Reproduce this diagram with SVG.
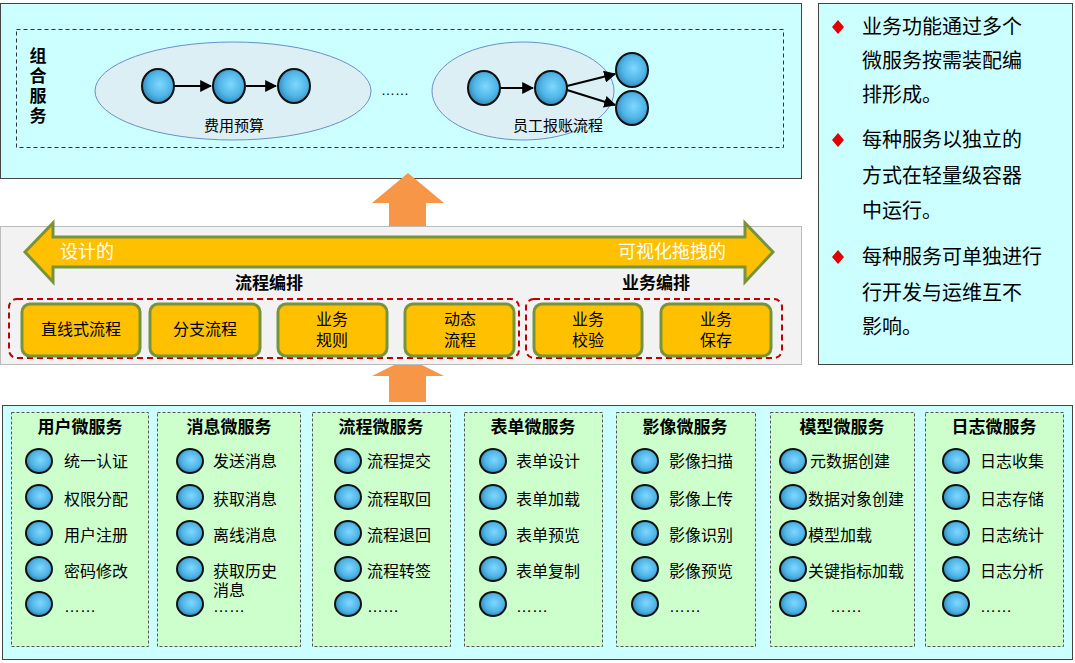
<svg xmlns="http://www.w3.org/2000/svg" width="1075" height="663" viewBox="0 0 1075 663">
<defs>
<radialGradient id="ball" cx="0.55" cy="0.45" r="0.6"><stop offset="0" stop-color="#7fd8ff"/><stop offset="0.6" stop-color="#4fb4e6"/><stop offset="1" stop-color="#2a7fb0"/></radialGradient>
<marker id="ah" viewBox="0 0 10 10" refX="9" refY="5" markerWidth="6" markerHeight="6" orient="auto"><path d="M0,0L10,5L0,10z" fill="#000"/></marker>
<style>
text{font-family:"Liberation Sans","Noto Sans CJK SC",sans-serif;fill:#000}
.panel{fill:#ccffff;stroke:#444;stroke-width:1}
.b{fill:url(#ball);stroke:#111;stroke-width:2}
.col{fill:#ccffcc;stroke:#555;stroke-width:1;stroke-dasharray:3,2}
.ttl{font-size:17px;font-weight:bold;text-anchor:middle}
.it{font-size:16px}
.yb{fill:#ffc000;stroke:#77933c;stroke-width:3}
.yt{font-size:16px;text-anchor:middle}
.rg{fill:none;stroke:#c00000;stroke-width:2;stroke-dasharray:6,4}
.org{fill:#f79646}
.rt{font-size:20px}
.dm{fill:#e00000}
</style>
</defs>
<g id="top">
<rect class="panel" x="0.5" y="3.5" width="801" height="175"/>
<rect x="16.5" y="29.5" width="767" height="118" fill="none" stroke="#333" stroke-dasharray="4,3"/>
<text x="38" y="62" font-size="17" font-weight="bold" text-anchor="middle">组</text>
<text x="38" y="82" font-size="17" font-weight="bold" text-anchor="middle">合</text>
<text x="38" y="102" font-size="17" font-weight="bold" text-anchor="middle">服</text>
<text x="38" y="122" font-size="17" font-weight="bold" text-anchor="middle">务</text>
<ellipse cx="233" cy="91" rx="138" ry="49" fill="#dceff5" stroke="#6a8fc8"/>
<ellipse cx="523" cy="91" rx="91" ry="49" fill="#dceff5" stroke="#6a8fc8"/>
<text x="395" y="95" font-size="14" text-anchor="middle">……</text>
<text x="234" y="131" font-size="15" text-anchor="middle">费用预算</text>
<text x="558" y="131" font-size="15" text-anchor="middle">员工报账流程</text>
</g>
<g id="connectors" stroke="#000" stroke-width="2" fill="none">
<line x1="174" y1="86" x2="211" y2="86" marker-end="url(#ah)"/>
<line x1="246" y1="86" x2="276" y2="86" marker-end="url(#ah)"/>
<line x1="501" y1="88" x2="533" y2="88" marker-end="url(#ah)"/>
<line x1="567" y1="86" x2="615" y2="74" marker-end="url(#ah)"/>
<line x1="567" y1="90" x2="615" y2="105" marker-end="url(#ah)"/>
</g>
<g id="flow-nodes">
<ellipse class="b" cx="158" cy="86" rx="16" ry="17"/>
<ellipse class="b" cx="229" cy="86" rx="16" ry="17"/>
<ellipse class="b" cx="294" cy="86" rx="16" ry="17"/>
<ellipse class="b" cx="484" cy="88" rx="16" ry="17"/>
<ellipse class="b" cx="551" cy="88" rx="16" ry="17"/>
<ellipse class="b" cx="632" cy="70" rx="16" ry="17"/>
<ellipse class="b" cx="632" cy="108" rx="16" ry="17"/>
</g>
<g id="arrows-up">
<path class="org" d="M408,173L444,203L426,203L426,226L389,226L389,203L372,203Z"/>
<path class="org" d="M408,358L444,376L426,376L426,402L389,402L389,376L372,376Z"/>
</g>
<g id="middle">
<rect x="0.5" y="226.5" width="801" height="138" fill="#f2f2f2" stroke="#bbb"/>
<path d="M25,252L53,223L53,237L745,237L745,223L773,252L745,282L745,267L53,267L53,282Z" fill="#ffc000" stroke="#77933c" stroke-width="3"/>
<text x="60" y="258" font-size="18" fill="#fff" style="fill:#fff">设计的</text>
<text x="726" y="258" font-size="18" text-anchor="end" style="fill:#fff">可视化拖拽的</text>
<text x="269" y="289" font-size="17" font-weight="bold" text-anchor="middle">流程编排</text>
<text x="656" y="289" font-size="17" font-weight="bold" text-anchor="middle">业务编排</text>
<rect class="rg" x="9" y="299" width="510" height="59" rx="8"/>
<rect class="rg" x="526" y="299" width="256" height="59" rx="8"/>
<g id="b1"><rect class="yb" x="22" y="304" width="118" height="52" rx="8"/><text class="yt" x="81" y="335">直线式流程</text></g>
<g id="b2"><rect class="yb" x="150" y="304" width="110" height="52" rx="8"/><text class="yt" x="205" y="335">分支流程</text></g>
<g id="b3"><rect class="yb" x="278" y="304" width="109" height="52" rx="8"/><text class="yt" x="332" y="325">业务</text><text class="yt" x="332" y="346">规则</text></g>
<g id="b4"><rect class="yb" x="405" y="304" width="109" height="52" rx="8"/><text class="yt" x="460" y="325">动态</text><text class="yt" x="460" y="346">流程</text></g>
<g id="b5"><rect class="yb" x="534" y="304" width="108" height="52" rx="8"/><text class="yt" x="588" y="325">业务</text><text class="yt" x="588" y="346">校验</text></g>
<g id="b6"><rect class="yb" x="661" y="304" width="110" height="52" rx="8"/><text class="yt" x="716" y="325">业务</text><text class="yt" x="716" y="346">保存</text></g>
</g>
<g id="right">
<rect class="panel" x="818.5" y="3.5" width="254" height="361"/>
<path class="dm" d="M838,20l6,7l-6,7l-6,-7z"/>
<path class="dm" d="M838,133l6,7l-6,7l-6,-7z"/>
<path class="dm" d="M838,250l6,7l-6,7l-6,-7z"/>
<text class="rt" x="862" y="34">业务功能通过多个</text>
<text class="rt" x="862" y="68">微服务按需装配编</text>
<text class="rt" x="862" y="102">排形成。</text>
<text class="rt" x="862" y="147">每种服务以独立的</text>
<text class="rt" x="862" y="183">方式在轻量级容器</text>
<text class="rt" x="862" y="218">中运行。</text>
<text class="rt" x="862" y="264">每种服务可单独进行</text>
<text class="rt" x="862" y="300">行开发与运维互不</text>
<text class="rt" x="862" y="334">影响。</text>
</g>
<g id="bottom">
<rect class="panel" x="2.5" y="405.5" width="1070" height="254"/>
<g id="c1"><rect class="col" x="11.5" y="412.5" width="137" height="234"/><text class="ttl" x="80" y="433">用户微服务</text>
<ellipse class="b" cx="39" cy="461" rx="13" ry="12"/><text class="it" x="64" y="467">统一认证</text>
<ellipse class="b" cx="39" cy="497" rx="13" ry="12"/><text class="it" x="64" y="505">权限分配</text>
<ellipse class="b" cx="39" cy="533" rx="13" ry="12"/><text class="it" x="64" y="541">用户注册</text>
<ellipse class="b" cx="39" cy="569" rx="13" ry="12"/><text class="it" x="64" y="577">密码修改</text>
<ellipse class="b" cx="39" cy="604" rx="13" ry="12"/><text class="it" x="64" y="612">……</text></g>
<g id="c2"><rect class="col" x="157.5" y="412.5" width="143" height="234"/><text class="ttl" x="229" y="433">消息微服务</text>
<ellipse class="b" cx="190" cy="461" rx="13" ry="12"/><text class="it" x="213" y="467">发送消息</text>
<ellipse class="b" cx="190" cy="497" rx="13" ry="12"/><text class="it" x="213" y="505">获取消息</text>
<ellipse class="b" cx="190" cy="533" rx="13" ry="12"/><text class="it" x="213" y="541">离线消息</text>
<ellipse class="b" cx="190" cy="569" rx="13" ry="12"/><text class="it" x="213" y="577">获取历史</text><text class="it" x="213" y="596">消息</text>
<ellipse class="b" cx="190" cy="604" rx="13" ry="12"/><text class="it" x="213" y="612">……</text></g>
<g id="c3"><rect class="col" x="312.5" y="412.5" width="138" height="234"/><text class="ttl" x="381" y="433">流程微服务</text>
<ellipse class="b" cx="348" cy="461" rx="13" ry="12"/><text class="it" x="367" y="467">流程提交</text>
<ellipse class="b" cx="348" cy="497" rx="13" ry="12"/><text class="it" x="367" y="505">流程取回</text>
<ellipse class="b" cx="348" cy="533" rx="13" ry="12"/><text class="it" x="367" y="541">流程退回</text>
<ellipse class="b" cx="348" cy="569" rx="13" ry="12"/><text class="it" x="367" y="577">流程转签</text>
<ellipse class="b" cx="348" cy="604" rx="13" ry="12"/><text class="it" x="367" y="612">……</text></g>
<g id="c4"><rect class="col" x="464.5" y="412.5" width="138" height="234"/><text class="ttl" x="533" y="433">表单微服务</text>
<ellipse class="b" cx="493" cy="461" rx="13" ry="12"/><text class="it" x="516" y="467">表单设计</text>
<ellipse class="b" cx="493" cy="497" rx="13" ry="12"/><text class="it" x="516" y="505">表单加载</text>
<ellipse class="b" cx="493" cy="533" rx="13" ry="12"/><text class="it" x="516" y="541">表单预览</text>
<ellipse class="b" cx="493" cy="569" rx="13" ry="12"/><text class="it" x="516" y="577">表单复制</text>
<ellipse class="b" cx="493" cy="604" rx="13" ry="12"/><text class="it" x="516" y="612">……</text></g>
<g id="c5"><rect class="col" x="616.5" y="412.5" width="139" height="234"/><text class="ttl" x="685" y="433">影像微服务</text>
<ellipse class="b" cx="645" cy="461" rx="13" ry="12"/><text class="it" x="669" y="467">影像扫描</text>
<ellipse class="b" cx="645" cy="497" rx="13" ry="12"/><text class="it" x="669" y="505">影像上传</text>
<ellipse class="b" cx="645" cy="533" rx="13" ry="12"/><text class="it" x="669" y="541">影像识别</text>
<ellipse class="b" cx="645" cy="569" rx="13" ry="12"/><text class="it" x="669" y="577">影像预览</text>
<ellipse class="b" cx="645" cy="604" rx="13" ry="12"/><text class="it" x="669" y="612">……</text></g>
<g id="c6"><rect class="col" x="770.5" y="412.5" width="144" height="234"/><text class="ttl" x="842" y="433">模型微服务</text>
<ellipse class="b" cx="793" cy="461" rx="13" ry="12"/><text class="it" x="810" y="467">元数据创建</text>
<ellipse class="b" cx="793" cy="497" rx="13" ry="12"/><text class="it" x="808" y="505">数据对象创建</text>
<ellipse class="b" cx="793" cy="533" rx="13" ry="12"/><text class="it" x="808" y="541">模型加载</text>
<ellipse class="b" cx="793" cy="569" rx="13" ry="12"/><text class="it" x="808" y="577">关键指标加载</text>
<ellipse class="b" cx="793" cy="604" rx="13" ry="12"/><text class="it" x="830" y="612">……</text></g>
<g id="c7"><rect class="col" x="925.5" y="412.5" width="138" height="234"/><text class="ttl" x="994" y="433">日志微服务</text>
<ellipse class="b" cx="956" cy="461" rx="13" ry="12"/><text class="it" x="980" y="467">日志收集</text>
<ellipse class="b" cx="956" cy="497" rx="13" ry="12"/><text class="it" x="980" y="505">日志存储</text>
<ellipse class="b" cx="956" cy="533" rx="13" ry="12"/><text class="it" x="980" y="541">日志统计</text>
<ellipse class="b" cx="956" cy="569" rx="13" ry="12"/><text class="it" x="980" y="577">日志分析</text>
<ellipse class="b" cx="956" cy="604" rx="13" ry="12"/><text class="it" x="980" y="612">……</text></g>
</g>
</svg>
